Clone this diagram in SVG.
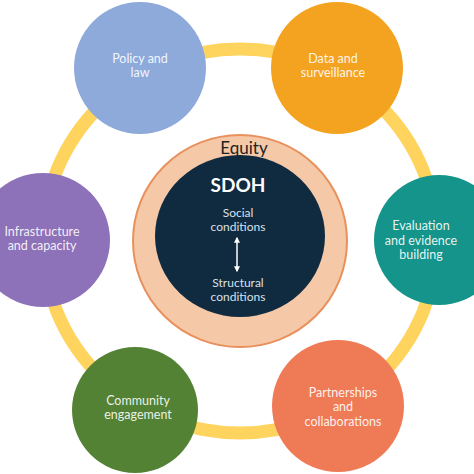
<svg xmlns="http://www.w3.org/2000/svg" width="474" height="474" viewBox="0 0 474 474">
<defs>
<style>
.node text{font-family:Lato,"Liberation Sans",sans-serif;font-size:12.5px;fill:#fff;fill-opacity:0.9;text-anchor:middle}
.inner{font-family:Lato,"Liberation Sans",sans-serif;font-size:12px;fill:#d9e0e8;text-anchor:middle}
</style>
<marker id="ah" viewBox="0 0 10 10" refX="8" refY="5" markerWidth="4" markerHeight="4" orient="auto-start-reverse">
<path d="M0,0 L10,5 L0,10 z" fill="#ffffff"/>
</marker>
</defs>
<rect width="474" height="474" fill="#ffffff"/>
<g id="connectors">
<ellipse cx="240" cy="241" rx="197" ry="192" fill="none" stroke="#FFD45E" stroke-width="13"/>
</g>
<g id="policy" class="node">
<circle cx="140" cy="68" r="66" fill="#8EAADB"/>
<text x="140" y="63">Policy and</text>
<text x="140" y="77">law</text>
</g>
<g id="data" class="node">
<circle cx="337" cy="68" r="66" fill="#F4A320"/>
<text x="333" y="63">Data and</text>
<text x="333" y="77">surveillance</text>
</g>
<g id="infrastructure" class="node">
<circle cx="43" cy="240" r="67" fill="#8E72B9"/>
<text x="42" y="236">Infrastructure</text>
<text x="42" y="250">and capacity</text>
</g>
<g id="evaluation" class="node">
<circle cx="439" cy="240" r="65" fill="#14948A"/>
<text x="421" y="230">Evaluation</text>
<text x="421" y="245">and evidence</text>
<text x="421" y="259">building</text>
</g>
<g id="community" class="node">
<circle cx="135" cy="410" r="63" fill="#548235"/>
<text x="138" y="405">Community</text>
<text x="138" y="419">engagement</text>
</g>
<g id="partnerships" class="node">
<circle cx="338" cy="406" r="66" fill="#EF7A56"/>
<text x="343" y="397">Partnerships</text>
<text x="343" y="411">and</text>
<text x="343" y="426">collaborations</text>
</g>
<g id="equity">
<ellipse cx="240" cy="241" rx="107" ry="106" fill="#F5C9A8" stroke="#E8915C" stroke-width="2"/>
<text x="244" y="154" font-family="Lato,'Liberation Sans',sans-serif" font-size="17" fill="#222222" text-anchor="middle">Equity</text>
</g>
<g id="sdoh">
<ellipse cx="240" cy="236" rx="85" ry="81" fill="#102A40"/>
<text x="238" y="192" font-family="Lato,'Liberation Sans',sans-serif" font-size="19" font-weight="bold" fill="#ffffff" text-anchor="middle">SDOH</text>
<text class="inner" x="238" y="217">Social</text>
<text class="inner" x="238" y="231">conditions</text>
<line x1="237" y1="238" x2="237" y2="271" stroke="#ffffff" stroke-width="1.5" marker-start="url(#ah)" marker-end="url(#ah)"/>
<text class="inner" x="238" y="287">Structural</text>
<text class="inner" x="238" y="301">conditions</text>
</g>
</svg>
